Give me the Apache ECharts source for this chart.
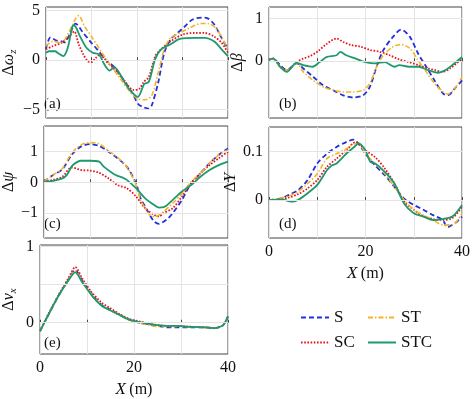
<!DOCTYPE html>
<html>
<head>
<meta charset="utf-8">
<script src="https://cdn.jsdelivr.net/npm/echarts@6/dist/echarts.min.js"></script>
<style>
  html, body { margin: 0; padding: 0; background: #fff; }
  #chart { width: 474px; height: 399px; }
</style>
</head>
<body>
<div id="chart"></div>
<script>
  // (a) yaw rate difference
  var aS = [[0,1.1],[1,2.3],[2.2,2.0],[3.4,1.9],[4.1,1.8],[5.2,2.6],[6.5,3.7],[8.2,2.75],[10,1.75],[11.6,0.9],[13,0.1],[15,-0.7],[16.4,-1.55],[17.8,-2.5],[19.2,-3.5],[20.2,-4.4],[21.2,-4.7],[22.6,-4.9],[23.3,-4.5],[24.7,-2.2],[26,0.75],[27.4,2.1],[28.8,2.7],[30.5,3.4],[32.2,4.1],[34.2,4.3],[35.6,4.2],[37,3.6],[38.4,2.4],[40,1.1]];
  var aSC = [[0,1.1],[1.4,1.4],[3.4,1.75],[5.1,2.4],[6.2,2.9],[7.2,1.6],[8.2,0.6],[9.3,-0.15],[10,-0.2],[11,0.25],[12,0.6],[13,0],[15,-0.9],[17.2,-2.05],[19.2,-3.0],[20.5,-2.9],[21.5,-2.2],[22.6,-1.7],[24,0.4],[25.3,1.1],[27.4,1.9],[30.1,2.6],[32.9,2.75],[34.9,2.75],[36.9,2.4],[38.6,1.75],[40,0.75]];
  var aST = [[0,1.4],[1.5,1.9],[3.4,1.75],[5,2.8],[7.2,4.5],[8.5,3.4],[10,2.4],[11.6,1.25],[13.7,-0.2],[16.4,-1.9],[18.5,-3.2],[20.2,-3.9],[21.9,-4.0],[23.3,-3.5],[24.7,-1.2],[26,1.1],[27.4,2.25],[29.4,2.75],[31.5,3.25],[34.2,3.7],[35.6,3.7],[37.3,3.25],[38.7,2.25],[40,1.1]];
  var aSTC = [[0,0.75],[0.7,0.9],[2,0.9],[2.7,0.7],[3.8,0.4],[4.8,1.25],[5.8,3.4],[6.2,3.5],[7.5,2.4],[8.9,1.25],[10.3,0.75],[11.6,0.6],[13,-0.55],[14,-1.05],[15,-0.7],[16,-1.2],[17.5,-2.4],[18.8,-3.2],[20.2,-3.7],[21.6,-2.4],[22.6,-2.2],[24,0.1],[25.3,1.1],[27.4,1.6],[29.4,2.15],[32.9,2.25],[34.9,2.25],[36.9,1.9],[38.6,1.1],[40,0.4]];

  // (b) sideslip difference
  var bS = [[0,0.04],[0.9,0.06],[2.3,-0.09],[3.7,-0.21],[4.7,-0.13],[5.7,-0.05],[7.1,-0.17],[9.2,-0.37],[11.2,-0.56],[13.3,-0.68],[15.4,-0.8],[17.4,-0.85],[19.5,-0.8],[20.9,-0.6],[22.3,-0.13],[23.7,0.26],[25.7,0.57],[27.4,0.74],[29.2,0.57],[30.9,0.18],[32.6,-0.13],[34.3,-0.45],[36.1,-0.76],[37.1,-0.8],[38.5,-0.64],[40,-0.45]];
  var bSC = [[0,0.04],[0.9,0.06],[2.3,-0.13],[3.7,-0.21],[5.7,-0.02],[7.1,0.06],[8.5,0.12],[10,0.22],[12,0.41],[14,0.53],[15.4,0.45],[17,0.38],[19,0.34],[21,0.26],[23,0.22],[25,0.14],[27,0.04],[29,-0.02],[31,-0.09],[33,-0.17],[34.5,-0.21],[36,-0.25],[37.5,-0.17],[40,0.06]];
  var bST = [[0,0.04],[0.9,0.06],[2.3,-0.13],[3.7,-0.21],[5.7,-0.05],[7.1,-0.25],[9.2,-0.45],[11.2,-0.6],[13.3,-0.68],[15.4,-0.72],[17.4,-0.72],[19.5,-0.68],[20.9,-0.52],[22.3,-0.13],[23.7,0.14],[25.7,0.34],[27.4,0.39],[29.2,0.3],[30.9,0.02],[32.6,-0.25],[34.3,-0.52],[36.1,-0.72],[37.1,-0.77],[38.5,-0.64],[40,-0.37]];
  var bSTC = [[0,0.04],[0.9,0.06],[2.3,-0.13],[3.7,-0.25],[5.7,-0.04],[7.1,-0.09],[9,-0.13],[10.5,-0.02],[12,0.1],[14,0.14],[14.8,0.22],[16,0.14],[18,0.06],[20,-0.02],[22,-0.05],[24,-0.02],[26,-0.13],[27,-0.09],[29,-0.13],[31,-0.13],[33,-0.21],[35,-0.27],[36.5,-0.21],[38,-0.09],[40,0.1]];

  // (c) heading difference
  var cS = [[0,0.02],[2,0.24],[4,0.42],[6,0.89],[8,1.16],[10,1.24],[12,1.18],[14,1.0],[16,0.78],[18,0.51],[20,-0.03],[21,-0.52],[22,-0.79],[23,-1.06],[24,-1.28],[25,-1.35],[26,-1.28],[27,-1.17],[28,-1.0],[30,-0.57],[32,-0.03],[34,0.29],[36,0.62],[38,0.89],[40,1.1]];
  var cSC = [[0,0.02],[2,0.08],[4,0.18],[6,0.48],[7,0.45],[8,0.4],[10,0.38],[12,0.31],[14,0.13],[16,-0.09],[18,-0.19],[20,-0.46],[22,-0.84],[24,-1.06],[25,-1.11],[26,-1.0],[28,-0.84],[30,-0.46],[32,-0.03],[34,0.29],[36,0.56],[38,0.78],[40,1.0]];
  var cST = [[0,0.02],[2,0.24],[4,0.45],[6,0.94],[8,1.21],[10,1.29],[12,1.25],[14,1.03],[16,0.81],[18,0.51],[20,-0.09],[21,-0.57],[22,-0.84],[23,-1.06],[24,-1.11],[25,-1.06],[26,-0.95],[28,-0.68],[30,-0.36],[32,0.02],[34,0.29],[36,0.62],[38,0.89],[40,1.05]];
  var cSTC = [[0,0.02],[2,0.05],[4,0.13],[5,0.24],[6,0.51],[7,0.64],[8,0.7],[10,0.7],[12,0.67],[13,0.51],[15,0.29],[16,0.21],[17,0.16],[18,0.08],[20,-0.19],[22,-0.52],[24,-0.74],[25,-0.82],[26,-0.81],[28,-0.57],[30,-0.3],[32,-0.09],[34,0.18],[36,0.4],[38,0.56],[40,0.67]];

  // (d) lateral offset difference
  var dS = [[0,0],[2,0.002],[4,0.01],[6,0.02],[8,0.041],[10,0.075],[12,0.095],[14,0.109],[16,0.119],[17.5,0.124],[18.5,0.116],[20,0.095],[22,0.071],[24,0.051],[26,0.027],[28,0.003],[30,-0.01],[32,-0.02],[34,-0.031],[36,-0.041],[37,-0.056],[38,-0.051],[39,-0.044],[40,-0.034]];
  var dSC = [[0,0],[2,0.001],[4,0.005],[6,0.012],[8,0.024],[10,0.041],[12,0.068],[14,0.085],[16,0.102],[18,0.119],[19,0.112],[20,0.102],[22,0.088],[24,0.065],[26,0.034],[28,-0.003],[30,-0.02],[32,-0.033],[34,-0.039],[36,-0.041],[38,-0.037],[40,-0.014]];
  var dST = [[0,0],[2,0.003],[4,0.008],[6,0.017],[8,0.034],[10,0.054],[12,0.085],[14,0.095],[16,0.105],[18,0.116],[19,0.112],[20,0.095],[22,0.075],[24,0.054],[26,0.027],[28,0],[30,-0.02],[32,-0.031],[34,-0.041],[36,-0.051],[38,-0.051],[40,-0.027]];
  var dSTC = [[0,0],[2,0.001],[3,0.001],[4,-0.002],[5,-0.003],[6,0],[8,0.014],[10,0.031],[12,0.061],[13,0.071],[14,0.075],[16,0.095],[18,0.112],[18.5,0.117],[20,0.102],[21,0.078],[22,0.075],[24,0.058],[26,0.034],[28,-0.007],[30,-0.027],[32,-0.034],[34,-0.041],[36,-0.039],[38,-0.034],[40,-0.01]];

  // (e) longitudinal speed difference
  var eS = [[0,-0.11],[2,0.13],[4,0.36],[6,0.56],[7.5,0.69],[9,0.55],[11,0.38],[13,0.24],[15,0.17],[17,0.1],[19,0.04],[21,0.0],[23,-0.02],[25,-0.04],[27,-0.06],[29,-0.06],[31,-0.06],[33,-0.06],[35,-0.06],[37,-0.07],[38,-0.06],[39,-0.03],[40,0.085]];
  var eSC = [[0,-0.11],[2,0.14],[4,0.37],[6,0.58],[7.5,0.73],[9,0.58],[11,0.4],[13,0.27],[15,0.19],[17,0.11],[19,0.05],[21,0.02],[23,-0.01],[25,-0.03],[27,-0.04],[29,-0.04],[31,-0.05],[33,-0.055],[35,-0.06],[37,-0.07],[38,-0.06],[39,-0.03],[40,0.085]];
  var eST = [[0,-0.11],[2,0.13],[4,0.36],[6,0.55],[7.5,0.68],[9,0.54],[11,0.37],[13,0.24],[15,0.16],[17,0.1],[19,0.03],[21,0.0],[23,-0.03],[25,-0.05],[27,-0.05],[29,-0.05],[31,-0.05],[33,-0.055],[35,-0.06],[37,-0.07],[38,-0.06],[39,-0.03],[40,0.085]];
  var eSTC = [[0,-0.11],[2,0.13],[4,0.36],[6,0.55],[7.5,0.66],[9,0.53],[11,0.36],[13,0.23],[15,0.16],[17,0.1],[19,0.04],[21,0.01],[23,-0.01],[25,-0.03],[27,-0.04],[29,-0.04],[31,-0.05],[33,-0.055],[35,-0.06],[37,-0.07],[38,-0.06],[39,-0.03],[40,0.085]];

  var yRange = [[-5.84, 5.37], [-1.33, 1.27], [-1.81, 1.83], [-0.078, 0.15], [-0.41, 1.02]];
  var yTicks = [[-5, 0, 5], [0, 1], [-1, 0, 1], [0, 0.1], [0, 0.5, 1]];
  var yLabels = [[-5, 0, 5], [0, 1], [-1, 0, 1], [0, 0.1], [0, 1]];
  var yNames = ['{d|Δ}{g|ω}{s|z}', '{d|Δ}{g|β}', '{d|Δ}{g|ψ}', '{d|Δ}{g|Y}', '{d|Δ}{g|v}{s|x}'];
  var panelNames = ['(a)', '(b)', '(c)', '(d)', '(e)'];
  var xTicks = [0, 20, 40];

  var serif = 'Liberation Serif';
  var seriesNames = ['S', 'SC', 'ST', 'STC'];
  var styles = {
    S: { color: '#2330d8', type: [5, 3], width: 1.8 },
    SC: { color: '#e8141c', type: [1.6, 1.6], width: 1.8 },
    ST: { color: '#f2b52a', type: [5, 2, 1.5, 2], width: 1.6 },
    STC: { color: '#1d9a6c', type: 'solid', width: 1.8 }
  };
  var panels = [
    [aS, aSC, aST, aSTC],
    [bS, bSC, bST, bSTC],
    [cS, cSC, cST, cSTC],
    [dS, dSC, dST, dSTC],
    [eS, eSC, eST, eSTC]
  ];

  var grids = [
    { left: 34, top: 7, width: 194, height: 111 },
    { left: 269, top: 7, width: 193, height: 111 },
    { left: 34, top: 126, width: 194, height: 112 },
    { left: 269, top: 127, width: 193, height: 111 },
    { left: 34, top: 245, width: 194, height: 112 }
  ];
  var nameGaps = [20, 21, 20, 16, 21];

  function fmt(v) {
    return String(v).replace('-', '\u2212');
  }

  var xAxes = [], yAxes = [], series = [], graphics = [];
  for (var i = 0; i < 5; i++) {
    grids[i].show = true;
    grids[i].borderColor = '#444';
    grids[i].borderWidth = 1;
    grids[i].containLabel = false;
    var showX = (i === 3 || i === 4);
    xAxes.push({
      type: 'value', gridIndex: i, min: 0, max: 40, interval: 10,
      axisLine: { show: false },
      axisTick: { show: true, inside: true, length: 3, lineStyle: { color: '#444' } },
      splitLine: { show: true, lineStyle: { color: '#e4e4e4', width: 1 } },
      axisLabel: {
        show: showX, margin: 6, fontFamily: serif, fontSize: 16, color: '#111',
        formatter: function (v) { return xTicks.indexOf(v) >= 0 ? String(v) : ''; }
      },
      name: showX ? '{i|X} {r|(m)}' : '',
      nameLocation: 'middle', nameGap: 27,
      nameTextStyle: {
        rich: {
          i: { fontFamily: serif, fontStyle: 'italic', fontSize: 17, color: '#111' },
          r: { fontFamily: serif, fontSize: 16, color: '#111' }
        }
      }
    });
    (function (labels) {
      yAxes.push({
        type: 'value', gridIndex: i, min: yRange[i][0], max: yRange[i][1],
        axisLine: { show: false },
        axisTick: { show: true, inside: true, length: 3, customValues: yTicks[i], lineStyle: { color: '#444' } },
        splitLine: { show: false },
        axisLabel: {
          customValues: labels, margin: 6, fontFamily: serif, fontSize: 16, color: '#111',
          formatter: function (v) { return fmt(v); }
        },
        name: yNames[i], nameLocation: 'middle', nameGap: nameGaps[i], nameRotate: 90,
        nameTextStyle: {
          rich: {
            d: { fontFamily: serif, fontSize: 16, color: '#111', lineHeight: 20 },
            g: { fontFamily: serif, fontStyle: 'italic', fontSize: 16, color: '#111', lineHeight: 20 },
            s: { fontFamily: serif, fontStyle: 'italic', fontSize: 11, color: '#111', verticalAlign: 'bottom', lineHeight: 20 }
          }
        }
      });
    })(yLabels[i]);

    // horizontal grid lines at the y ticks
    series.push({
      type: 'line', xAxisIndex: i, yAxisIndex: i, data: [], z: 1, silent: true,
      markLine: {
        silent: true, symbol: 'none', label: { show: false },
        lineStyle: { color: '#e4e4e4', type: 'solid', width: 1 },
        data: yTicks[i].map(function (v) { return { yAxis: v }; })
      }
    });

    for (var k = 0; k < 4; k++) {
      var nm = seriesNames[k];
      series.push({
        name: nm, type: 'line', xAxisIndex: i, yAxisIndex: i,
        data: panels[i][k], showSymbol: false, symbol: 'none',
        smooth: 0.3, z: k === 3 ? 3 : 2 + k * 0.1,
        lineStyle: { color: styles[nm].color, type: styles[nm].type, width: styles[nm].width },
        itemStyle: { color: styles[nm].color }
      });
    }
    graphics.push({
      type: 'text', left: grids[i].left + 10, top: grids[i].top + grids[i].height - 21,
      style: { text: panelNames[i], font: '15px "Liberation Serif"', fill: '#111' }
    });
  }

  var legendText = { fontFamily: serif, fontSize: 17, color: '#111' };
  var legendBase = { orient: 'vertical', top: 304, itemWidth: 28, itemHeight: 14, itemGap: 8, textStyle: legendText, itemStyle: { opacity: 0 } };
  var chart = echarts.init(document.getElementById('chart'));
  chart.setOption({
    animation: false,
    backgroundColor: '#fff',
    grid: grids,
    xAxis: xAxes,
    yAxis: yAxes,
    series: series,
    graphic: graphics,
    legend: [
      Object.assign({ data: ['S', 'SC'], left: 295 }, legendBase),
      Object.assign({ data: ['ST', 'STC'], left: 362 }, legendBase)
    ]
  });
</script>
</body>
</html>
